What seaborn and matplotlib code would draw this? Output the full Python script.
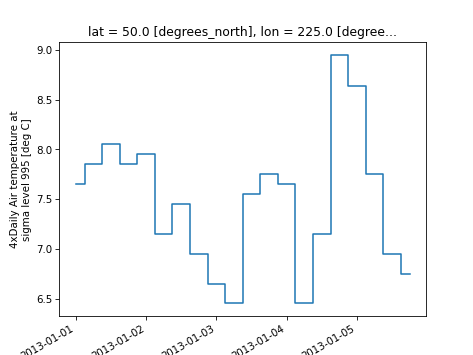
import matplotlib
matplotlib.use("Agg")
import matplotlib.pyplot as plt
import numpy as np
import pandas as pd
import seaborn as sns

times = ["2013-01-01 00:00", "2013-01-01 06:00", "2013-01-01 12:00", "2013-01-01 18:00",
         "2013-01-02 00:00", "2013-01-02 06:00", "2013-01-02 12:00", "2013-01-02 18:00",
         "2013-01-03 00:00", "2013-01-03 06:00", "2013-01-03 12:00", "2013-01-03 18:00",
         "2013-01-04 00:00", "2013-01-04 06:00", "2013-01-04 12:00", "2013-01-04 18:00",
         "2013-01-05 00:00", "2013-01-05 06:00", "2013-01-05 12:00", "2013-01-05 18:00"]
air = [7.65, 7.85, 8.05, 7.85, 7.95, 7.15, 7.45, 6.95, 6.65, 6.45,
       7.55, 7.75, 7.65, 6.45, 7.15, 8.95, 8.64, 7.75, 6.95, 6.75]

df = pd.DataFrame({"time": pd.to_datetime(times), "air": air})

fig, ax = plt.subplots(figsize=(6.4, 4.8), dpi=74)
sns.lineplot(data=df, x="time", y="air", ax=ax, drawstyle="steps-mid", color="C0")
ax.set_xlabel("")
ax.set_ylabel("4xDaily Air temperature at\nsigma level 995 [deg C]")
ax.set_title("lat = 50.0 [degrees_north], lon = 225.0 [degree...")
for lab in ax.get_xticklabels():
    lab.set_rotation(30)
    lab.set_ha("right")
fig.savefig("out.png", dpi=74)
